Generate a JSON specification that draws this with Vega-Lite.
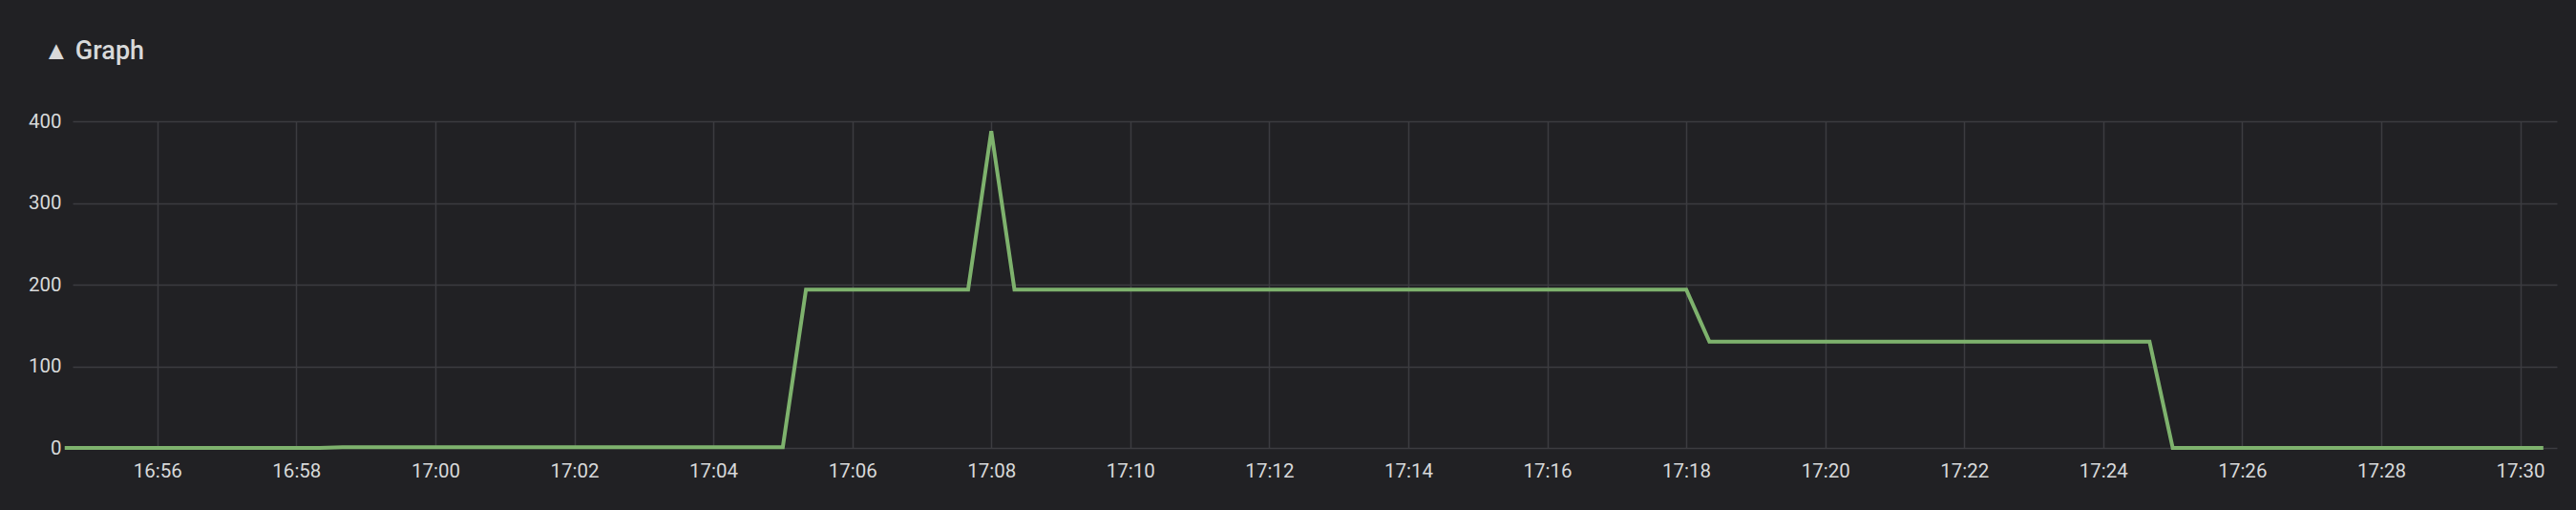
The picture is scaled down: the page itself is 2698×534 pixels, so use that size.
{
  "$schema": "https://vega.github.io/schema/vega-lite/v6.json",
  "autosize": {"type": "none"},
  "width": 2602,
  "height": 342,
  "padding": {"left": 76, "top": 127, "right": 20, "bottom": 65},
  "background": "#212124",
  "title": {
    "text": "▲ Graph",
    "anchor": "start",
    "font": "Roboto",
    "fontSize": 27,
    "fontWeight": 500,
    "color": "#d8d9da",
    "offset": 49,
    "dx": 16
  },
  "config": {
    "view": {"stroke": null},
    "axis": {
      "labelFont": "Roboto",
      "labelFontSize": 20.5,
      "labelColor": "#d8d9da",
      "gridColor": "#3c3c40",
      "gridWidth": 1.5,
      "gridOpacity": 1,
      "domain": false,
      "ticks": false
    }
  },
  "data": {
    "values": [
      {"time": "2024-01-01T16:54:40", "value": 0},
      {"time": "2024-01-01T16:55:00", "value": 0},
      {"time": "2024-01-01T16:55:20", "value": 0},
      {"time": "2024-01-01T16:55:40", "value": 0},
      {"time": "2024-01-01T16:56:00", "value": 0},
      {"time": "2024-01-01T16:56:20", "value": 0},
      {"time": "2024-01-01T16:56:40", "value": 0},
      {"time": "2024-01-01T16:57:00", "value": 0},
      {"time": "2024-01-01T16:57:20", "value": 0},
      {"time": "2024-01-01T16:57:40", "value": 0},
      {"time": "2024-01-01T16:58:00", "value": 0},
      {"time": "2024-01-01T16:58:20", "value": 0},
      {"time": "2024-01-01T16:58:40", "value": 1},
      {"time": "2024-01-01T16:59:00", "value": 1},
      {"time": "2024-01-01T16:59:20", "value": 1},
      {"time": "2024-01-01T16:59:40", "value": 1},
      {"time": "2024-01-01T17:00:00", "value": 1},
      {"time": "2024-01-01T17:00:20", "value": 1},
      {"time": "2024-01-01T17:00:40", "value": 1},
      {"time": "2024-01-01T17:01:00", "value": 1},
      {"time": "2024-01-01T17:01:20", "value": 1},
      {"time": "2024-01-01T17:01:40", "value": 1},
      {"time": "2024-01-01T17:02:00", "value": 1},
      {"time": "2024-01-01T17:02:20", "value": 1},
      {"time": "2024-01-01T17:02:40", "value": 1},
      {"time": "2024-01-01T17:03:00", "value": 1},
      {"time": "2024-01-01T17:03:20", "value": 1},
      {"time": "2024-01-01T17:03:40", "value": 1},
      {"time": "2024-01-01T17:04:00", "value": 1},
      {"time": "2024-01-01T17:04:20", "value": 1},
      {"time": "2024-01-01T17:04:40", "value": 1},
      {"time": "2024-01-01T17:05:00", "value": 1},
      {"time": "2024-01-01T17:05:20", "value": 194},
      {"time": "2024-01-01T17:05:40", "value": 194},
      {"time": "2024-01-01T17:06:00", "value": 194},
      {"time": "2024-01-01T17:06:20", "value": 194},
      {"time": "2024-01-01T17:06:40", "value": 194},
      {"time": "2024-01-01T17:07:00", "value": 194},
      {"time": "2024-01-01T17:07:20", "value": 194},
      {"time": "2024-01-01T17:07:40", "value": 194},
      {"time": "2024-01-01T17:08:00", "value": 388},
      {"time": "2024-01-01T17:08:20", "value": 194},
      {"time": "2024-01-01T17:08:40", "value": 194},
      {"time": "2024-01-01T17:09:00", "value": 194},
      {"time": "2024-01-01T17:09:20", "value": 194},
      {"time": "2024-01-01T17:09:40", "value": 194},
      {"time": "2024-01-01T17:10:00", "value": 194},
      {"time": "2024-01-01T17:10:20", "value": 194},
      {"time": "2024-01-01T17:10:40", "value": 194},
      {"time": "2024-01-01T17:11:00", "value": 194},
      {"time": "2024-01-01T17:11:20", "value": 194},
      {"time": "2024-01-01T17:11:40", "value": 194},
      {"time": "2024-01-01T17:12:00", "value": 194},
      {"time": "2024-01-01T17:12:20", "value": 194},
      {"time": "2024-01-01T17:12:40", "value": 194},
      {"time": "2024-01-01T17:13:00", "value": 194},
      {"time": "2024-01-01T17:13:20", "value": 194},
      {"time": "2024-01-01T17:13:40", "value": 194},
      {"time": "2024-01-01T17:14:00", "value": 194},
      {"time": "2024-01-01T17:14:20", "value": 194},
      {"time": "2024-01-01T17:14:40", "value": 194},
      {"time": "2024-01-01T17:15:00", "value": 194},
      {"time": "2024-01-01T17:15:20", "value": 194},
      {"time": "2024-01-01T17:15:40", "value": 194},
      {"time": "2024-01-01T17:16:00", "value": 194},
      {"time": "2024-01-01T17:16:20", "value": 194},
      {"time": "2024-01-01T17:16:40", "value": 194},
      {"time": "2024-01-01T17:17:00", "value": 194},
      {"time": "2024-01-01T17:17:20", "value": 194},
      {"time": "2024-01-01T17:17:40", "value": 194},
      {"time": "2024-01-01T17:18:00", "value": 194},
      {"time": "2024-01-01T17:18:20", "value": 130},
      {"time": "2024-01-01T17:18:40", "value": 130},
      {"time": "2024-01-01T17:19:00", "value": 130},
      {"time": "2024-01-01T17:19:20", "value": 130},
      {"time": "2024-01-01T17:19:40", "value": 130},
      {"time": "2024-01-01T17:20:00", "value": 130},
      {"time": "2024-01-01T17:20:20", "value": 130},
      {"time": "2024-01-01T17:20:40", "value": 130},
      {"time": "2024-01-01T17:21:00", "value": 130},
      {"time": "2024-01-01T17:21:20", "value": 130},
      {"time": "2024-01-01T17:21:40", "value": 130},
      {"time": "2024-01-01T17:22:00", "value": 130},
      {"time": "2024-01-01T17:22:20", "value": 130},
      {"time": "2024-01-01T17:22:40", "value": 130},
      {"time": "2024-01-01T17:23:00", "value": 130},
      {"time": "2024-01-01T17:23:20", "value": 130},
      {"time": "2024-01-01T17:23:40", "value": 130},
      {"time": "2024-01-01T17:24:00", "value": 130},
      {"time": "2024-01-01T17:24:20", "value": 130},
      {"time": "2024-01-01T17:24:40", "value": 130},
      {"time": "2024-01-01T17:25:00", "value": 0},
      {"time": "2024-01-01T17:25:20", "value": 0},
      {"time": "2024-01-01T17:25:40", "value": 0},
      {"time": "2024-01-01T17:26:00", "value": 0},
      {"time": "2024-01-01T17:26:20", "value": 0},
      {"time": "2024-01-01T17:26:40", "value": 0},
      {"time": "2024-01-01T17:27:00", "value": 0},
      {"time": "2024-01-01T17:27:20", "value": 0},
      {"time": "2024-01-01T17:27:40", "value": 0},
      {"time": "2024-01-01T17:28:00", "value": 0},
      {"time": "2024-01-01T17:28:20", "value": 0},
      {"time": "2024-01-01T17:28:40", "value": 0},
      {"time": "2024-01-01T17:29:00", "value": 0},
      {"time": "2024-01-01T17:29:20", "value": 0},
      {"time": "2024-01-01T17:29:40", "value": 0},
      {"time": "2024-01-01T17:30:00", "value": 0},
      {"time": "2024-01-01T17:30:20", "value": 0}
    ]
  },
  "mark": {"type": "line", "color": "#7EB26D", "strokeWidth": 4},
  "encoding": {
    "x": {
      "field": "time",
      "type": "temporal",
      "title": null,
      "scale": {
        "domain": [
          {"year": 2024, "month": 1, "date": 1, "hours": 16, "minutes": 54, "seconds": 46, "milliseconds": 800},
          {"year": 2024, "month": 1, "date": 1, "hours": 17, "minutes": 30, "seconds": 31, "milliseconds": 700}
        ],
        "nice": false
      },
      "axis": {
        "format": "%H:%M",
        "values": [
          {"year": 2024, "month": 1, "date": 1, "hours": 16, "minutes": 56},
          {"year": 2024, "month": 1, "date": 1, "hours": 16, "minutes": 58},
          {"year": 2024, "month": 1, "date": 1, "hours": 17, "minutes": 0},
          {"year": 2024, "month": 1, "date": 1, "hours": 17, "minutes": 2},
          {"year": 2024, "month": 1, "date": 1, "hours": 17, "minutes": 4},
          {"year": 2024, "month": 1, "date": 1, "hours": 17, "minutes": 6},
          {"year": 2024, "month": 1, "date": 1, "hours": 17, "minutes": 8},
          {"year": 2024, "month": 1, "date": 1, "hours": 17, "minutes": 10},
          {"year": 2024, "month": 1, "date": 1, "hours": 17, "minutes": 12},
          {"year": 2024, "month": 1, "date": 1, "hours": 17, "minutes": 14},
          {"year": 2024, "month": 1, "date": 1, "hours": 17, "minutes": 16},
          {"year": 2024, "month": 1, "date": 1, "hours": 17, "minutes": 18},
          {"year": 2024, "month": 1, "date": 1, "hours": 17, "minutes": 20},
          {"year": 2024, "month": 1, "date": 1, "hours": 17, "minutes": 22},
          {"year": 2024, "month": 1, "date": 1, "hours": 17, "minutes": 24},
          {"year": 2024, "month": 1, "date": 1, "hours": 17, "minutes": 26},
          {"year": 2024, "month": 1, "date": 1, "hours": 17, "minutes": 28},
          {"year": 2024, "month": 1, "date": 1, "hours": 17, "minutes": 30}
        ],
        "labelPadding": 14,
        "labelBaseline": "top",
        "labelAlign": "center",
        "labelFlush": false,
        "labelOverlap": false
      }
    },
    "y": {
      "field": "value",
      "type": "quantitative",
      "title": null,
      "scale": {"domain": [0, 400], "nice": false},
      "axis": {
        "values": [0, 100, 200, 300, 400],
        "labelPadding": 12,
        "labelAlign": "right",
        "labelBaseline": "middle"
      }
    }
  }
}
